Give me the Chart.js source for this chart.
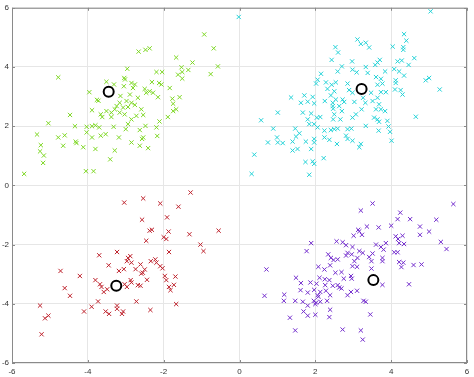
<!DOCTYPE html>
<html>
<head>
<meta charset="utf-8">
<script src="https://cdn.jsdelivr.net/npm/chart.js@4/dist/chart.umd.min.js"></script>
<style>
html, body { margin: 0; padding: 0; background: #fff; }
</style>
</head>
<body>
<canvas id="clusterChart" width="474" height="377"></canvas>
<script>
// points, [x, y]
const greenPoints = [
    [-4.78,3.65],[-3.51,3.50],[-3.31,3.41],[-3.96,3.15],[-3.76,2.89],[-3.72,2.86],[-4.47,2.38],[-3.89,2.54],
    [-3.62,2.31],[-3.51,2.51],[-3.38,2.46],[-3.29,2.57],[-3.66,2.40],[-5.04,2.10],[-4.34,2.00],[-4.03,1.98],
    [-3.89,2.00],[-3.80,2.03],[-3.70,1.96],[-3.32,1.98],[-4.03,1.79],[-5.34,1.72],[-4.78,1.62],[-4.61,1.69],
    [-3.89,1.62],[-3.66,1.68],[-3.53,1.73],[-3.18,1.62],[-4.32,1.48],[-4.30,1.43],[-5.24,1.36],[-4.65,1.34],
    [-4.12,1.29],[-5.26,1.15],[-3.80,1.23],[-3.29,1.18],[-5.16,1.01],[-3.41,0.88],[-5.18,0.76],[-4.05,0.48],
    [-3.85,0.48],[-5.68,0.39],
    [-0.93,5.10],[-0.68,4.63],[-2.66,4.52],[-2.48,4.58],[-2.37,4.63],[-1.67,4.32],[-1.24,4.15],[-1.53,3.99],
    [-1.35,3.90],[-1.51,3.83],[-1.62,3.74],[-1.51,3.61],[-0.76,3.76],[-0.57,4.02],[-2.96,3.94],[-2.19,3.83],
    [-2.04,3.83],[-3.04,3.63],[-3.02,3.58],[-3.05,3.35],[-2.85,3.46],[-2.76,3.41],[-2.81,3.29],[-2.31,3.49],
    [-2.12,3.46],[-2.06,3.41],[-2.50,3.26],[-1.84,3.29],[-2.46,3.13],[-2.37,3.18],[-2.28,3.13],[-3.14,3.02],
    [-2.89,3.07],[-2.68,2.96],[-2.15,2.98],[-1.77,2.93],[-1.58,2.98],[-3.16,2.79],[-2.98,2.85],[-2.85,2.79],
    [-3.24,2.68],[-3.07,2.63],[-2.94,2.65],[-2.76,2.72],[-1.75,2.76],[-2.59,2.57],[-1.75,2.51],[-1.67,2.57],
    [-3.16,2.46],[-3.03,2.40],[-2.72,2.35],[-2.54,2.38],[-1.89,2.31],[-3.38,2.31],[-2.85,2.23],[-2.94,2.07],
    [-2.11,2.16],[-2.48,2.01],[-2.19,1.96],[-3.00,1.90],[-2.63,1.87],[-2.54,1.62],[-2.17,1.67],[-2.85,1.45],
    [-2.63,1.34],[-2.57,1.57],[-2.41,1.26]
];
const cyanPoints = [
    [-0.02,5.69],[2.53,4.67],[2.43,4.24],[2.15,3.77],[2.06,3.57],[2.02,3.44],[2.28,3.48],[2.43,3.40],
    [2.54,3.48],[2.32,3.26],[2.50,3.18],[1.71,3.04],[1.93,2.99],[1.36,2.97],[2.41,3.04],[1.62,2.79],
    [1.80,2.83],[1.97,2.77],[2.25,2.85],[2.54,2.90],[2.46,2.68],[1.67,2.46],[1.89,2.43],[1.01,2.46],
    [2.13,2.31],[2.04,2.29],[1.80,2.23],[2.50,2.40],[0.57,2.20],[1.97,2.07],[2.06,1.96],[2.24,1.85],
    [2.41,1.87],[2.50,1.90],[2.59,1.92],[1.47,1.92],[0.89,1.92],[1.84,2.07],[1.58,1.76],[1.49,1.65],
    [0.75,1.45],[0.99,1.62],[1.01,1.45],[1.14,1.43],[1.40,1.48],[1.75,1.48],[1.97,1.57],[1.97,1.45],
    [2.24,1.62],[2.37,1.54],[2.57,1.40],[1.40,1.18],[1.53,1.23],[1.89,1.23],[0.39,1.04],[2.22,0.92],
    [1.74,0.79],[1.93,0.81],[1.97,0.73],[0.32,0.39],[1.84,0.36],
    [5.04,5.88],[4.34,5.11],[4.40,4.89],[4.32,4.67],[4.32,4.58],[4.04,4.69],[3.11,4.93],[3.20,4.78],
    [3.33,4.82],[3.42,4.66],[2.60,4.49],[4.61,4.30],[4.46,4.07],[4.17,4.19],[4.28,4.22],[3.70,4.24],
    [3.64,4.15],[3.58,4.07],[2.97,4.19],[2.70,4.02],[3.33,4.00],[4.08,3.93],[4.21,3.85],[2.98,3.91],
    [3.09,3.82],[2.59,3.85],[3.38,3.80],[3.84,3.85],[4.34,3.71],[3.60,3.66],[3.73,3.60],[4.12,3.55],
    [4.12,3.46],[4.91,3.55],[5.00,3.63],[2.85,3.44],[3.64,3.40],[3.77,3.44],[5.28,3.24],[2.89,3.22],
    [2.98,3.13],[4.10,3.24],[4.25,3.22],[4.30,3.07],[3.73,3.15],[3.47,3.13],[3.86,3.15],[2.72,2.90],
    [3.26,2.96],[3.64,2.96],[3.03,2.82],[3.32,2.79],[3.51,2.85],[2.46,2.79],[2.63,2.68],[2.76,2.82],
    [3.68,2.74],[3.60,2.57],[3.73,2.57],[3.84,2.51],[3.22,2.57],[2.47,2.59],[2.70,2.51],[3.07,2.40],
    [2.98,2.29],[2.47,2.23],[2.66,2.23],[3.55,2.29],[3.64,2.23],[3.68,2.15],[3.90,2.18],[4.65,2.32],
    [3.33,2.01],[3.93,1.99],[2.85,1.90],[2.95,1.92],[3.67,1.85],[3.97,1.81],[2.81,1.68],[2.85,1.57],
    [2.98,1.51],[3.20,1.40],[3.16,1.29],[4.01,1.51]
];
const redPoints = [
    [-3.70,-2.36],[-3.23,-2.25],[-3.45,-2.70],[-3.18,-2.89],[-4.72,-2.89],[-4.21,-3.06],[-3.80,-3.20],[-3.68,-3.34],
    [-3.64,-3.43],[-4.61,-3.47],[-4.47,-3.73],[-3.49,-3.51],[-3.58,-3.60],[-3.73,-3.92],[-3.90,-4.10],[-4.10,-4.26],
    [-3.53,-4.26],[-3.44,-4.34],[-3.23,-4.06],[-3.23,-4.17],[-5.26,-4.06],[-5.04,-4.40],[-5.13,-4.49],[-5.22,-5.03],
    [-1.29,-0.24],[-3.04,-0.58],[-2.54,-0.44],[-2.09,-0.61],[-1.61,-0.72],[-1.91,-1.08],[-2.57,-1.16],[-2.37,-1.53],
    [-2.31,-1.50],[-1.87,-1.56],[-1.32,-1.65],[-0.55,-1.53],[-2.00,-1.75],[-1.93,-1.81],[-2.46,-1.87],[-1.03,-2.00],
    [-0.95,-2.22],[-1.86,-2.25],[-2.94,-2.45],[-2.88,-2.39],[-2.97,-2.56],[-2.85,-2.61],[-2.61,-2.67],[-2.34,-2.56],
    [-2.22,-2.50],[-2.19,-2.61],[-2.09,-2.73],[-2.03,-2.80],[-2.74,-2.83],[-3.05,-2.83],[-2.50,-2.84],[-2.59,-2.98],
    [-2.55,-2.95],[-1.97,-3.06],[-1.69,-3.08],[-1.93,-3.20],[-2.44,-3.19],[-2.87,-3.20],[-2.85,-3.28],[-3.03,-3.34],
    [-2.97,-3.43],[-2.68,-3.37],[-2.61,-3.39],[-1.86,-3.43],[-1.73,-3.36],[-1.82,-3.54],[-2.72,-3.92],[-1.67,-4.01],
    [-3.07,-4.26],[-3.10,-4.34],[-2.35,-4.21]
];
const purplePoints = [
    [1.89,-1.95],[1.77,-2.22],[2.56,-1.89],[2.72,-1.92],[2.81,-2.02],[2.98,-2.08],[3.01,-1.70],[2.34,-2.33],
    [2.41,-2.45],[2.48,-2.52],[2.59,-2.50],[2.81,-2.37],[2.85,-2.28],[0.71,-2.84],[2.08,-2.75],[2.24,-2.84],
    [2.39,-2.70],[2.53,-2.95],[2.69,-2.93],[2.98,-2.73],[1.49,-3.12],[2.11,-3.12],[2.25,-3.17],[2.37,-3.20],
    [2.75,-3.15],[2.94,-3.06],[1.62,-3.30],[1.87,-3.28],[2.03,-3.32],[2.26,-3.37],[2.46,-3.39],[2.59,-3.37],
    [2.63,-3.45],[2.69,-3.48],[1.61,-3.54],[1.97,-3.53],[2.13,-3.60],[2.28,-3.56],[1.80,-3.62],[2.94,-3.60],
    [2.85,-3.71],[0.66,-3.73],[1.18,-3.69],[2.06,-3.71],[2.08,-3.76],[2.39,-3.71],[1.17,-3.90],[1.47,-3.90],
    [1.67,-3.93],[1.96,-3.90],[2.13,-3.93],[2.31,-3.90],[1.80,-4.06],[2.00,-4.01],[2.02,-3.96],[2.39,-4.20],
    [1.69,-4.26],[1.80,-4.40],[2.00,-4.37],[2.37,-4.45],[1.33,-4.47],[2.72,-4.87],[1.47,-4.90],
    [3.51,-0.61],[3.20,-0.85],[4.24,-0.92],[4.17,-1.14],[4.50,-1.14],[5.19,-1.16],[5.64,-0.63],[3.36,-1.39],
    [3.67,-1.42],[4.00,-1.36],[4.76,-1.39],[5.00,-1.56],[3.13,-1.50],[3.16,-1.55],[3.23,-1.67],[4.12,-1.72],
    [4.18,-1.81],[4.30,-1.70],[4.76,-1.67],[5.31,-1.91],[5.46,-2.15],[3.60,-2.00],[3.73,-2.08],[3.80,-2.17],
    [3.86,-1.95],[4.34,-1.98],[4.21,-1.95],[2.96,-2.33],[3.16,-2.22],[3.25,-2.28],[3.51,-2.30],[4.08,-2.26],
    [4.17,-2.26],[3.11,-2.45],[3.42,-2.42],[3.77,-2.45],[3.77,-2.56],[3.03,-2.56],[3.48,-2.56],[4.21,-2.59],
    [4.32,-2.61],[4.59,-2.69],[4.80,-2.67],[3.10,-2.75],[4.27,-2.76],[3.48,-2.81],[2.96,-3.15],[3.77,-3.36],
    [4.47,-3.34],[3.10,-3.56],[3.27,-3.90],[3.33,-3.93],[3.45,-4.36],[3.20,-4.90],[3.25,-5.21]
];
const centerPoints = [[-3.45,3.16],[3.22,3.26],[-3.25,-3.39],[3.53,-3.20]];
const tickValues = [-6, -4, -2, 0, 2, 4, 6];

const toXY = pts => pts.map(p => ({ x: p[0], y: p[1] }));

function crossSet(pts, color) {
    return {
        data: toXY(pts),
        pointStyle: 'crossRot',
        pointRadius: 3,
        pointBorderWidth: 1,
        borderColor: color,
        backgroundColor: color,
        order: 1
    };
}

// grey box round the plot with short inward ticks
const frame = {
    id: 'frame',
    beforeDatasetsDraw(chart) {
        const { ctx, chartArea: a, scales } = chart;
        ctx.save();
        ctx.strokeStyle = '#8a8a8a';
        ctx.lineWidth = 1;
        ctx.strokeRect(a.left + 0.5, a.top + 0.5, a.right - a.left - 1, a.bottom - a.top - 1);
        ctx.beginPath();
        tickValues.forEach(v => {
            const px = Math.round(scales.x.getPixelForValue(v)) + 0.5;
            ctx.moveTo(px, a.top); ctx.lineTo(px, a.top + 3);
            ctx.moveTo(px, a.bottom); ctx.lineTo(px, a.bottom - 3);
            const py = Math.round(scales.y.getPixelForValue(v)) + 0.5;
            ctx.moveTo(a.left, py); ctx.lineTo(a.left + 3, py);
            ctx.moveTo(a.right, py); ctx.lineTo(a.right - 3, py);
        });
        ctx.stroke();
        ctx.restore();
    }
};

const tickFont = { family: 'Liberation Sans', size: 8 };

const ctx = document.getElementById('clusterChart').getContext('2d');
const clusterChart = new Chart(ctx, {
    type: 'scatter',
    data: {
        datasets: [
            {
                data: toXY(centerPoints),
                pointStyle: 'circle',
                pointRadius: 5,
                pointBorderWidth: 2,
                borderColor: '#000',
                backgroundColor: 'rgba(0,0,0,0)',
                order: 0
            },
            crossSet(greenPoints, 'rgb(125,215,35)'),
            crossSet(cyanPoints, 'rgb(35,210,215)'),
            crossSet(redPoints, 'rgb(190,35,45)'),
            crossSet(purplePoints, 'rgb(115,45,205)')
        ]
    },
    options: {
        responsive: false,
        animation: false,
        devicePixelRatio: 1,
        layout: { padding: { top: 0, right: 3, left: 0, bottom: 0 } },
        plugins: {
            legend: { display: false },
            tooltip: { enabled: false }
        },
        scales: {
            x: {
                type: 'linear',
                min: -6,
                max: 6,
                afterBuildTicks: s => { s.ticks = tickValues.map(v => ({ value: v })); },
                afterFit: s => { s.height = 14; },
                ticks: { font: tickFont, color: '#333', padding: 4, maxRotation: 0 },
                grid: { color: '#e6e6e6', drawTicks: false },
                border: { display: false }
            },
            y: {
                type: 'linear',
                min: -6,
                max: 6,
                afterBuildTicks: s => { s.ticks = tickValues.map(v => ({ value: v })); },
                afterFit: s => { s.width = 12; },
                ticks: { font: tickFont, color: '#333', padding: 3 },
                grid: { color: '#e6e6e6', drawTicks: false },
                border: { display: false }
            }
        }
    },
    plugins: [frame]
});
</script>
</body>
</html>
